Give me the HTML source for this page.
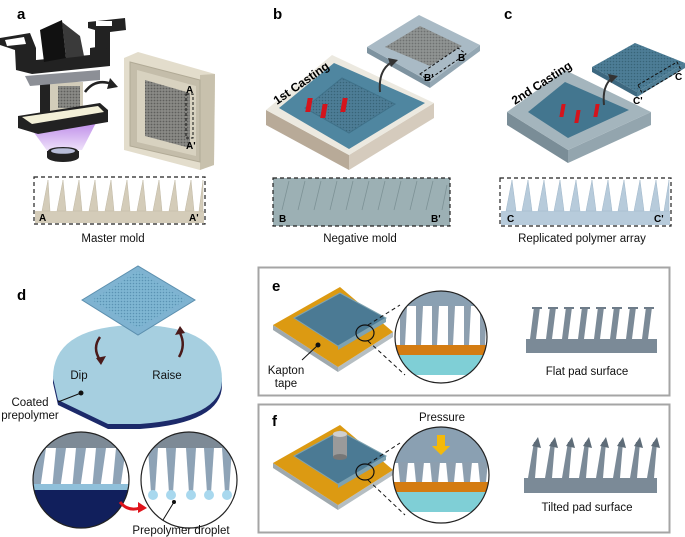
<!DOCTYPE html>
<html><head><meta charset="utf-8"><style>
html,body{margin:0;padding:0;background:#fff}
svg{display:block}
text{font-family:"Liberation Sans",sans-serif}
.lb{font-weight:bold;font-size:15px}
.cap{font-size:11.5px;fill:#111}
</style></head><body>
<svg width="685" height="537" viewBox="0 0 685 537" xmlns="http://www.w3.org/2000/svg">
<defs>
<pattern id="dots" width="3" height="3" patternUnits="userSpaceOnUse"><rect width="3" height="3" fill="#8a8a86"/><circle cx="1.5" cy="1.5" r="0.9" fill="#5f5f5c"/></pattern>
<pattern id="bdots" width="3" height="3" patternUnits="userSpaceOnUse"><rect width="3" height="3" fill="#4d7d96"/><circle cx="1.5" cy="1.5" r="0.8" fill="#386478"/></pattern>
<pattern id="ldots" width="3" height="3" patternUnits="userSpaceOnUse"><rect width="3" height="3" fill="#7fb6d3"/><circle cx="1.5" cy="1.5" r="0.8" fill="#5a93b3"/></pattern>
<linearGradient id="purp" x1="0" y1="0" x2="0" y2="1"><stop offset="0" stop-color="#a35ee0"/><stop offset="1" stop-color="#efe2fa"/></linearGradient>
<clipPath id="ce"><circle cx="441" cy="337" r="46"/></clipPath>
<clipPath id="cf"><circle cx="441" cy="475" r="48"/></clipPath>
<clipPath id="cd1"><circle cx="81" cy="480" r="48"/></clipPath>
<clipPath id="cd2"><circle cx="189" cy="480" r="48"/></clipPath>
</defs>

<text x="17" y="19" class="lb">a</text>
<text x="273" y="19" class="lb">b</text>
<text x="504" y="19" class="lb">c</text>
<text x="17" y="300" class="lb">d</text>

<!-- ===== a: printer ===== -->
<polygon points="30,127 100,115 82,150 48,152" fill="url(#purp)" opacity="0.85"/>
<ellipse cx="63" cy="157" rx="16" ry="5" fill="#222"/>
<rect x="47" y="151" width="32" height="6" fill="#222"/>
<ellipse cx="63" cy="151" rx="15" ry="4" fill="#222"/>
<ellipse cx="63" cy="151" rx="12" ry="2.8" fill="#b8bdd8"/>
<rect x="40" y="82" width="12" height="32" fill="#222"/>
<rect x="50" y="82" width="33" height="30" fill="#d2ccba"/>
<rect x="58" y="86" width="22" height="22" fill="url(#dots)"/>
<polygon points="25,76 100,70 100,80 30,86" fill="#8c8f96"/>
<!-- frame -->
<polygon points="0,38 30,33 36,48 36,60 90,55 90,48 110,45 110,66 32,74 16,70 15,50 0,45" fill="#222"/>
<polygon points="5,40 24,37 26,44 7,46" fill="#fff"/>
<polygon points="40,30 62,20 66,58 44,62" fill="#111"/>
<polygon points="62,22 80,36 84,56 66,58" fill="#3a3a3a"/>
<polygon points="88,22 125,18 126,30 110,32 110,48 95,50 95,30 88,28" fill="#222"/>
<rect x="96" y="21" width="16" height="5" fill="#fff"/>
<!-- tray -->
<polygon points="18,116 100,103 108,110 108,122 38,134 18,128" fill="#222"/>
<polygon points="22,117 98,106 104,112 32,124" fill="#f3f0d8"/>
<path d="M85,92 Q95,78 112,84" fill="none" stroke="#222" stroke-width="2.5"/>
<polygon points="110,78 118,87 107,89" fill="#222"/>
<!-- master plate -->
<polygon points="124,58 138,52 215,74 214,165 200,170 124,150" fill="#e3ddcc"/>
<polygon points="200,75 215,74 214,165 200,170" fill="#c8c1ad"/>
<polygon points="130,62 200,80 200,162 130,146" fill="#c4bdaa" stroke="#b1aa96"/>
<polygon points="137,70 196,86 196,156 137,142" fill="#d8d2c0"/>
<polygon points="145,80 190,93 190,148 145,136" fill="url(#dots)"/>
<rect x="186" y="94" width="7" height="44" fill="none" stroke="#111" stroke-dasharray="3,2" stroke-width="1"/>
<text x="186" y="93" font-size="10" font-weight="bold">A</text>
<text x="186" y="149" font-size="10" font-weight="bold">A'</text>
<rect x="34" y="177" width="171" height="47" fill="#fff" stroke="#222" stroke-dasharray="4,3" stroke-width="1.2"/>
<rect x="35" y="211" width="169" height="12" fill="#d4ccb9"/>
<g fill="#d4ccb9" stroke="#c0b8a4" stroke-width="0.5">
<polygon points="42,211 48,180 50,211"/><polygon points="57,211 63,180 66,211"/><polygon points="73,211 79,180 82,211"/><polygon points="89,211 95,180 98,211"/><polygon points="105,211 111,180 114,211"/><polygon points="121,211 127,180 130,211"/><polygon points="137,211 143,180 146,211"/><polygon points="153,211 159,180 162,211"/><polygon points="169,211 175,180 178,211"/><polygon points="185,211 191,180 194,211"/><polygon points="199,211 203,180 203,211"/>
</g>
<text x="39" y="221" font-size="10" font-weight="bold">A</text>
<text x="189" y="221" font-size="10" font-weight="bold">A'</text>
<text x="113" y="242" class="cap" text-anchor="middle">Master mold</text>

<!-- ===== b ===== -->
<polygon points="266,110 349,155 349,170 266,125" fill="#b8aa98"/>
<polygon points="349,155 434,103 434,118 349,170" fill="#d5cbbd"/>
<polygon points="266,110 332,55 434,103 349,155" fill="#ece9e0"/>
<polygon points="279,108 334,63 425,103 349,149" fill="#4f86a0"/>
<polygon points="305,108 342,78 395,104 349,133" fill="url(#bdots)" stroke="#3f7189"/>
<g fill="#d4141c"><rect x="325" y="98" width="5" height="14" transform="skewX(-10)"/><rect x="341" y="104" width="5" height="14" transform="skewX(-10)"/><rect x="360" y="98" width="5" height="14" transform="skewX(-10)"/></g>
<text x="0" y="0" font-size="12" font-weight="bold" transform="translate(277,105) rotate(-35)">1st Casting</text>
<polygon points="367,47 430,82 430,88 367,53" fill="#7e93a0"/>
<polygon points="430,82 480,45 480,51 430,88" fill="#94a7b3"/>
<polygon points="367,47 419,15 480,45 430,82" fill="#a9bac5"/>
<polygon points="385,47 420,26 462,46 430,66" fill="url(#dots)" opacity="0.8"/>
<polygon points="420,74 458,48 466,54 428,80" fill="none" stroke="#111" stroke-dasharray="3,2"/>
<text x="458" y="61" font-size="10" font-weight="bold">B</text>
<text x="424" y="81" font-size="10" font-weight="bold">B'</text>
<path d="M380,92 Q378,70 392,62" fill="none" stroke="#333" stroke-width="2"/>
<polygon points="388,58 398,60 391,67" fill="#333"/>
<rect x="273" y="178" width="177" height="48" fill="#9cb0b4" stroke="#222" stroke-dasharray="4,3" stroke-width="1.2"/>
<g stroke="#7d9296" stroke-width="0.8" fill="none">
<path d="M282,210 L289,181 M298,210 L305,181 M314,210 L321,181 M330,210 L337,181 M346,210 L353,181 M362,210 L369,181 M378,210 L385,181 M394,210 L401,181 M410,210 L417,181 M426,210 L433,181 M442,210 L447,185"/>
</g>
<text x="279" y="222" font-size="10" font-weight="bold">B</text>
<text x="431" y="222" font-size="10" font-weight="bold">B'</text>
<text x="360" y="242" class="cap" text-anchor="middle">Negative mold</text>

<!-- ===== c ===== -->
<polygon points="507,112 568,150 568,163 507,125" fill="#7a8d97"/>
<polygon points="568,150 651,112 651,125 568,163" fill="#93a5ae"/>
<polygon points="507,112 565,70 651,112 568,150" fill="#a4b5bd"/>
<polygon points="528,112 565,82 629,110 568,138" fill="#43768f"/>
<g fill="#d4141c"><rect x="580" y="104" width="4" height="13" transform="skewX(-10)"/><rect x="596" y="110" width="4" height="13" transform="skewX(-10)"/><rect x="614" y="104" width="4" height="13" transform="skewX(-10)"/></g>
<text x="0" y="0" font-size="12" font-weight="bold" transform="translate(515,105) rotate(-33)">2nd Casting</text>
<polygon points="592,67 637,92 637,97 592,72" fill="#3d6880"/>
<polygon points="637,92 685,63 685,68 637,97" fill="#4f7d94"/>
<polygon points="592,67 635,43 685,63 637,92" fill="url(#bdots)"/>
<polygon points="638,85 677,62 681,70 642,93" fill="none" stroke="#111" stroke-dasharray="3,2"/>
<text x="675" y="80" font-size="10" font-weight="bold">C</text>
<text x="633" y="104" font-size="10" font-weight="bold">C'</text>
<path d="M604,105 Q602,86 612,78" fill="none" stroke="#333" stroke-width="2"/>
<polygon points="608,74 618,76 611,83" fill="#333"/>
<rect x="500" y="178" width="171" height="48" fill="#fff" stroke="#222" stroke-dasharray="4,3" stroke-width="1.2"/>
<rect x="501" y="211" width="169" height="14" fill="#b7cbdb"/>
<g fill="#b7cbdb" stroke="#a0b7ca" stroke-width="0.5">
<polygon points="506,211 512,180 516,211"/><polygon points="522,211 528,180 532,211"/><polygon points="538,211 544,180 548,211"/><polygon points="554,211 560,180 564,211"/><polygon points="570,211 576,180 580,211"/><polygon points="586,211 592,180 596,211"/><polygon points="602,211 608,180 612,211"/><polygon points="618,211 624,180 628,211"/><polygon points="634,211 640,180 644,211"/><polygon points="650,211 656,180 660,211"/><polygon points="664,211 669,180 669,211"/>
</g>
<text x="507" y="222" font-size="10" font-weight="bold">C</text>
<text x="654" y="222" font-size="10" font-weight="bold">C'</text>
<text x="582" y="242" class="cap" text-anchor="middle">Replicated polymer array</text>

<!-- ===== d ===== -->
<path d="M53,378 Q53,326 138,325 Q222,326 222,380 Q222,418 140,424 L108,424 L58,400 Z" fill="#1c2a6a" transform="translate(0,5)"/>
<path d="M53,378 Q53,326 138,325 Q222,326 222,380 Q222,418 140,424 L108,424 L58,400 Z" fill="#a6cfe0"/>
<polygon points="82,300 138,266 195,300 138,335" fill="#7fb3d1" stroke="#5c8fae"/>
<polygon points="92,300 138,271 186,300 138,328" fill="url(#ldots)"/>
<path d="M100,337 Q92,348 100,360" fill="none" stroke="#4a1a1a" stroke-width="2.5"/>
<polygon points="96,358 106,356 101,365" fill="#4a1a1a"/>
<path d="M179,357 Q186,345 180,333" fill="none" stroke="#4a1a1a" stroke-width="2.5"/>
<polygon points="175,335 185,333 180,326" fill="#4a1a1a"/>
<text x="79" y="379" class="cap" text-anchor="middle">Dip</text>
<text x="167" y="379" class="cap" text-anchor="middle">Raise</text>
<circle cx="81" cy="393" r="2.5" fill="#111"/>
<line x1="81" y1="393" x2="58" y2="402" stroke="#111"/>
<text x="30" y="406" class="cap" text-anchor="middle">Coated</text>
<text x="30" y="419" class="cap" text-anchor="middle">prepolymer</text>
<g clip-path="url(#cd1)">
<rect x="30" y="430" width="110" height="100" fill="#fff"/>
<rect x="30" y="430" width="110" height="18" fill="#7d8a96"/>
<g fill="#8ea3b6"><polygon points="36,448 46,448 40,490 32,490"/><polygon points="56,448 66,448 60,490 52,490"/><polygon points="76,448 86,448 80,490 72,490"/><polygon points="96,448 106,448 100,490 92,490"/><polygon points="116,448 126,448 120,490 112,490"/></g>
<rect x="30" y="484" width="110" height="6" fill="#8fc0da"/>
<rect x="30" y="490" width="110" height="40" fill="#111f5c"/>
</g>
<circle cx="81" cy="480" r="48" fill="none" stroke="#222" stroke-width="1.2"/>
<g clip-path="url(#cd2)">
<rect x="138" y="430" width="110" height="100" fill="#fff"/>
<rect x="138" y="430" width="110" height="18" fill="#7d8a96"/>
<g fill="#8ea3b6"><polygon points="148,448 158,448 155,493 151,493"/><polygon points="166,448 176,448 173,493 169,493"/><polygon points="186,448 196,448 193,493 189,493"/><polygon points="204,448 214,448 211,493 207,493"/><polygon points="222,448 232,448 229,493 225,493"/></g>
<g fill="#a8d8ee"><circle cx="153" cy="495" r="5"/><circle cx="171" cy="495" r="5"/><circle cx="191" cy="495" r="5"/><circle cx="209" cy="495" r="5"/><circle cx="227" cy="495" r="5"/></g>
</g>
<circle cx="189" cy="480" r="48" fill="none" stroke="#222" stroke-width="1.2"/>
<path d="M120,502 Q128,512 140,508" fill="none" stroke="#e0141c" stroke-width="3"/>
<polygon points="138,502 147,508 138,513" fill="#e0141c"/>
<circle cx="174" cy="502" r="2" fill="#111"/>
<line x1="174" y1="502" x2="163" y2="520" stroke="#111"/>
<text x="181" y="534" class="cap" text-anchor="middle">Prepolymer droplet</text>

<!-- ===== e ===== -->
<rect x="258.5" y="267.5" width="411" height="128" fill="none" stroke="#a5a5a5" stroke-width="2"/>
<text x="272" y="291" class="lb">e</text>
<polygon points="273,325 338,367 338,372 273,330" fill="#9fa9ae"/>
<polygon points="338,367 393,332 393,337 338,372" fill="#b5bec2"/>
<polygon points="273,325 340,287 393,332 338,367" fill="#dc9a12"/>
<polygon points="294,318 340,293 386,318 338,346" fill="#4b7a94" stroke="#7ea2b0"/>
<polygon points="338,346 386,318 386,322 338,350" fill="#7ea2b0"/>
<ellipse cx="365" cy="333" rx="9" ry="8" fill="none" stroke="#111" stroke-width="1.2"/>
<line x1="368" y1="325" x2="400" y2="305" stroke="#111" stroke-dasharray="4,3"/>
<line x1="368" y1="341" x2="405" y2="375" stroke="#111" stroke-dasharray="4,3"/>
<circle cx="318" cy="345" r="2.5" fill="#111"/>
<line x1="318" y1="345" x2="302" y2="360" stroke="#111"/>
<text x="286" y="374" class="cap" text-anchor="middle">Kapton</text>
<text x="286" y="387" class="cap" text-anchor="middle">tape</text>
<g clip-path="url(#ce)">
<rect x="390" y="288" width="104" height="100" fill="#fff"/>
<rect x="390" y="288" width="104" height="18" fill="#8aa0b2"/>
<g fill="#8d9faf"><polygon points="400,306 407,306 405,345 400,345"/><polygon points="416,306 423,306 421,345 416,345"/><polygon points="432,306 439,306 437,345 432,345"/><polygon points="448,306 455,306 453,345 448,345"/><polygon points="464,306 471,306 469,345 464,345"/><polygon points="480,306 487,306 485,345 480,345"/></g>
<rect x="390" y="345" width="104" height="10" fill="#d47c12"/>
<rect x="390" y="355" width="104" height="20" fill="#7fcfd6"/>
</g>
<circle cx="441" cy="337" r="46" fill="none" stroke="#222" stroke-width="1.2"/>
<rect x="526" y="339" width="131" height="14" fill="#7b8a97"/>
<g fill="#7b8a97"><polygon points="530,339 536,339 540,307 534,307"/><polygon points="546,339 552,339 556,307 550,307"/><polygon points="562,339 568,339 572,307 566,307"/><polygon points="578,339 584,339 588,307 582,307"/><polygon points="594,339 600,339 604,307 598,307"/><polygon points="610,339 616,339 620,307 614,307"/><polygon points="626,339 632,339 636,307 630,307"/><polygon points="642,339 648,339 652,307 646,307"/></g>
<g fill="#6e7c89"><rect x="532" y="307" width="10" height="2"/><rect x="548" y="307" width="10" height="2"/><rect x="564" y="307" width="10" height="2"/><rect x="580" y="307" width="10" height="2"/><rect x="596" y="307" width="10" height="2"/><rect x="612" y="307" width="10" height="2"/><rect x="628" y="307" width="10" height="2"/><rect x="644" y="307" width="10" height="2"/></g>
<text x="587" y="375" class="cap" text-anchor="middle">Flat pad surface</text>

<!-- ===== f ===== -->
<rect x="258.5" y="404.5" width="411" height="128" fill="none" stroke="#a5a5a5" stroke-width="2"/>
<text x="272" y="426" class="lb">f</text>
<polygon points="273,463 338,505 338,510 273,468" fill="#9fa9ae"/>
<polygon points="338,505 393,470 393,475 338,510" fill="#b5bec2"/>
<polygon points="273,463 340,425 393,470 338,505" fill="#dc9a12"/>
<polygon points="294,456 340,431 386,456 338,484" fill="#4b7a94" stroke="#7ea2b0"/>
<polygon points="338,484 386,456 386,460 338,488" fill="#7ea2b0"/>
<rect x="333" y="434" width="14" height="23" fill="#9a9a9a"/>
<ellipse cx="340" cy="457" rx="7" ry="3" fill="#777"/>
<ellipse cx="340" cy="434" rx="7" ry="3" fill="#cfcfcf"/>
<ellipse cx="365" cy="472" rx="9" ry="8" fill="none" stroke="#111" stroke-width="1.2"/>
<line x1="368" y1="464" x2="400" y2="443" stroke="#111" stroke-dasharray="4,3"/>
<line x1="368" y1="480" x2="405" y2="515" stroke="#111" stroke-dasharray="4,3"/>
<g clip-path="url(#cf)">
<rect x="390" y="426" width="104" height="100" fill="#fff"/>
<rect x="390" y="426" width="104" height="37" fill="#8aa0b2"/>
<g fill="#8d9faf"><polygon points="398,462 408,462 406,482 400,482"/><polygon points="414,462 424,462 422,482 416,482"/><polygon points="430,462 440,462 438,482 432,482"/><polygon points="446,462 456,462 454,482 448,482"/><polygon points="462,462 472,462 470,482 464,482"/><polygon points="478,462 488,462 486,482 480,482"/></g>
<rect x="390" y="482" width="104" height="10" fill="#d47c12"/>
<rect x="390" y="492" width="104" height="20" fill="#7fcfd6"/>
</g>
<circle cx="441" cy="475" r="48" fill="none" stroke="#222" stroke-width="1.2"/>
<polygon points="437,435 445,435 445,446 450,446 441,455 432,446 437,446" fill="#f4b90a"/>
<text x="442" y="421" class="cap" text-anchor="middle">Pressure</text>
<rect x="524" y="478" width="133" height="15" fill="#7b8a97"/>
<g fill="#7b8a97"><polygon points="528,478 535,478 538,442 534,442"/><polygon points="545,478 552,478 555,442 551,442"/><polygon points="562,478 569,478 572,442 568,442"/><polygon points="579,478 586,478 589,442 585,442"/><polygon points="596,478 603,478 606,442 602,442"/><polygon points="613,478 620,478 623,442 619,442"/><polygon points="630,478 637,478 640,442 636,442"/><polygon points="647,478 654,478 657,442 653,442"/></g>
<g fill="#5e6c78"><polygon points="532,446 538,437 541,448"/><polygon points="549,446 555,437 558,448"/><polygon points="566,446 572,437 575,448"/><polygon points="583,446 589,437 592,448"/><polygon points="600,446 606,437 609,448"/><polygon points="617,446 623,437 626,448"/><polygon points="634,446 640,437 643,448"/><polygon points="651,446 657,437 660,448"/></g>
<text x="587" y="511" class="cap" text-anchor="middle">Tilted pad surface</text>
</svg>
</body></html>
